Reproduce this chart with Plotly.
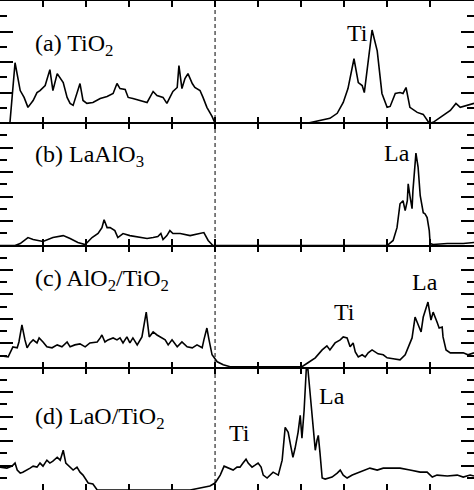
import plotly.graph_objects as go
from plotly.subplots import make_subplots

##############################################################################
# 데이터 (energy in eV, DOS in arb. units)
e_a = [-5.00, -4.77, -4.65, -4.53, -4.44, -4.35, -4.23, -4.14, -4.07, -3.95, -3.84, -3.77,
       -3.67, -3.60, -3.53, -3.44, -3.37, -3.30, -3.21, -3.14, -3.07, -2.98, -2.84, -2.67,
       -2.51, -2.37, -2.28, -2.21, -2.09, -2.02, -1.91, -1.74, -1.58, -1.44, -1.35, -1.21,
       -1.12, -1.05, -0.98, -0.88, -0.84, -0.77, -0.70, -0.63, -0.53, -0.47, -0.35, -0.28,
       -0.19, -0.07, 0.00, 2.14, 2.67, 2.84, 2.98, 3.09, 3.23, 3.33, 3.42, 3.47, 3.56, 3.65,
       3.77, 3.88, 4.00, 4.07, 4.19, 4.30, 4.37, 4.44, 4.53, 4.70, 4.84, 4.93, 4.98, 5.07,
       5.30, 5.47, 5.60, 5.70, 6.02]
dos_a = [0.00, 0.00, 3.96, 2.14, 1.69, 1.04, 1.49, 2.01, 2.14, 2.47, 3.51, 2.14,
         3.25, 2.99, 2.66, 1.69, 1.30, 1.17, 1.95, 2.60, 1.49, 1.30, 1.36, 1.62,
         1.75, 1.95, 2.60, 2.27, 2.21, 1.69, 1.62, 1.49, 1.36, 2.08, 1.82, 1.69,
         1.30, 1.69, 2.08, 2.34, 3.77, 2.27, 2.92, 3.25, 2.60, 2.34, 2.14, 1.69,
         1.04, 0.45, 0.00, 0.00, 0.32, 0.65, 1.36, 2.27, 4.22, 2.66, 2.47, 2.01, 4.09, 6.10,
         4.74, 1.95, 1.04, 1.10, 1.95, 2.01, 1.95, 2.34, 1.04, 0.71, 0.58, 0.19, 0.00, 0.06,
         0.52, 0.84, 1.30, 1.04, 1.30]

e_b = [-5.00, -4.65, -4.53, -4.35, -4.23, -4.00, -3.77, -3.53, -3.37, -3.19, -3.02, -2.86,
       -2.72, -2.63, -2.58, -2.51, -2.44, -2.33, -2.26, -2.14, -1.98, -1.74, -1.58, -1.44,
       -1.33, -1.26, -1.21, -1.12, -1.05, -0.98, -0.81, -0.58, -0.35, -0.26, -0.16, -0.05,
       4.00, 4.14, 4.23, 4.30, 4.37, 4.42, 4.47, 4.49, 4.53, 4.58, 4.60, 4.67, 4.72, 4.77,
       4.84, 4.88, 4.93, 4.98, 5.00, 5.07, 5.40, 5.77, 6.02]
dos_b = [0.00, 0.00, 0.16, 0.65, 0.49, 0.33, 0.65, 0.81, 0.57, 0.24, 0.08, 0.65,
         0.98, 1.46, 2.11, 1.46, 1.46, 1.22, 0.65, 0.98, 0.81, 0.65, 0.57, 0.65,
         0.73, 0.98, 0.49, 0.81, 1.22, 0.98, 0.98, 0.81, 0.98, 1.06, 0.41, 0.00,
         0.00, 0.41, 1.46, 3.41, 3.66, 2.85, 3.66, 5.04, 4.07, 3.01, 4.47, 7.56, 6.42, 4.07,
         2.68, 2.60, 2.28, 1.22, 0.16, 0.08, 0.16, 0.16, 0.24]

e_c = [-5.00, -4.81, -4.70, -4.60, -4.56, -4.49, -4.42, -4.37, -4.30, -4.23, -4.14, -4.09,
       -4.00, -3.91, -3.79, -3.67, -3.56, -3.44, -3.37, -3.26, -3.14, -3.02, -2.91, -2.74,
       -2.67, -2.63, -2.56, -2.49, -2.37, -2.28, -2.21, -2.14, -2.05, -1.98, -1.91, -1.81,
       -1.70, -1.60, -1.53, -1.44, -1.35, -1.28, -1.16, -1.09, -1.00, -0.88, -0.77, -0.65,
       -0.53, -0.42, -0.30, -0.26, -0.19, -0.14, -0.07, 0.05, 0.19, 0.35, 1.67, 2.02, 2.16,
       2.33, 2.49, 2.60, 2.67, 2.79, 2.91, 2.98, 3.07, 3.14, 3.21, 3.26, 3.33, 3.42, 3.49,
       3.56, 3.65, 3.72, 3.79, 3.91, 4.00, 4.14, 4.30, 4.42, 4.49, 4.58, 4.65, 4.70, 4.79,
       4.84, 4.91, 4.95, 5.02, 5.07, 5.16, 5.21, 5.28, 5.30, 5.37, 5.47, 5.63, 5.77, 5.88,
       6.02]
dos_c = [0.98, 0.89, 1.71, 1.63, 2.11, 3.50, 2.28, 1.63, 2.03, 2.28, 2.03, 2.44,
         2.11, 1.71, 1.63, 1.87, 1.71, 2.11, 1.71, 1.87, 1.95, 1.71, 2.03, 2.11,
         2.44, 2.68, 2.11, 2.28, 2.44, 2.28, 2.44, 2.03, 2.52, 2.03, 2.44, 1.87,
         2.52, 4.55, 2.52, 2.93, 2.68, 2.52, 2.28, 1.87, 2.28, 1.71, 2.11, 1.71,
         1.63, 1.87, 1.63, 2.28, 3.25, 2.28, 1.06, 0.49, 0.24, 0.08, 0.08, 0.08, 0.41,
         0.81, 1.46, 1.79, 1.46, 2.03, 2.28, 2.52, 2.44, 1.71, 2.03, 1.30, 0.89, 1.06, 0.89,
         1.22, 1.46, 1.30, 1.14, 1.06, 0.81, 0.73, 0.65, 1.06, 1.71, 2.44, 4.15, 3.74, 2.93,
         4.15, 4.96, 5.37, 3.90, 4.55, 3.74, 3.25, 3.33, 2.52, 1.46, 1.22, 1.22, 1.22, 1.06,
         1.22]

e_d = [-5.00, -4.84, -4.72, -4.65, -4.60, -4.53, -4.47, -4.37, -4.30, -4.23, -4.14, -4.07,
       -4.00, -3.91, -3.84, -3.77, -3.67, -3.60, -3.53, -3.47, -3.37, -3.30, -3.21, -3.14,
       -3.07, -3.00, -2.95, -2.84, -2.74, -0.58, -0.35, -0.12, 0.00, 0.12, 0.21, 0.30, 0.42,
       0.51, 0.58, 0.65, 0.72, 0.77, 0.86, 0.93, 1.00, 1.07, 1.12, 1.21, 1.28, 1.35, 1.47,
       1.56, 1.63, 1.70, 1.77, 1.81, 1.86, 1.93, 1.98, 2.00, 2.02, 2.07, 2.12, 2.16, 2.21,
       2.28, 2.33, 2.37, 2.40, 2.44, 2.49, 2.56, 2.72, 2.84, 2.91, 2.98, 3.07, 3.19, 3.37,
       3.60, 3.77, 3.91, 4.07, 4.30, 4.53, 4.77, 4.93, 5.05, 5.16, 5.40, 5.63, 5.77, 5.93,
       6.02]
dos_d = [1.87, 1.79, 1.95, 2.20, 1.63, 1.38, 1.46, 1.63, 1.79, 1.95, 1.87, 2.20,
         1.95, 2.44, 2.20, 2.36, 2.68, 2.44, 3.25, 2.20, 1.87, 1.63, 1.87, 1.46,
         1.22, 0.81, 0.57, 0.49, 0.00, 0.00, 0.16, 0.33, 0.57, 1.22, 1.95, 1.79, 1.63,
         1.87, 1.87, 2.20, 2.52, 2.20, 1.87, 2.03, 2.20, 1.87, 1.22, 0.98, 1.22, 1.46, 1.22,
         2.44, 5.12, 4.72, 3.41, 2.68, 3.41, 4.72, 6.10, 4.88, 4.23, 6.50, 9.84, 9.84, 7.89,
         5.69, 3.25, 4.07, 4.47, 3.01, 0.98, 0.89, 1.06, 1.38, 1.63, 1.22, 0.98, 1.22, 1.46,
         1.79, 1.63, 1.79, 1.79, 1.79, 1.63, 1.46, 1.46, 1.06, 1.22, 1.14, 1.22, 1.06, 1.22,
         1.14]

panel_e = [e_a, e_b, e_c, e_d]
panel_dos = [dos_a, dos_b, dos_c, dos_d]
panel_ymax = [8, 10, 10, 10]

# 텍스트 라벨 (text, row, x, y)
labels = [
    ("(a) TiO<sub>2</sub>", 1, -4.23, 5.1),
    ("Ti", 1, 3.02, 5.9),
    ("(b) LaAlO<sub>3</sub>", 2, -4.23, 7.3),
    ("La", 2, 3.88, 7.6),
    ("(c) AlO<sub>2</sub>/TiO<sub>2</sub>", 3, -4.23, 7.15),
    ("Ti", 3, 2.72, 4.6),
    ("La", 3, 4.53, 7.0),
    ("(d) LaO/TiO<sub>2</sub>", 4, -4.23, 5.9),
    ("Ti", 4, 0.28, 4.7),
    ("La", 4, 2.37, 7.7),
]

##############################################################################
fig = make_subplots(rows=4, cols=1, shared_xaxes=True, vertical_spacing=0)

for i in range(4):
    fig.add_trace(go.Scatter(x=panel_e[i], y=panel_dos[i], mode='lines',
                             line=dict(color='black', width=1.6),
                             showlegend=False), row=i + 1, col=1)
    fig.update_yaxes(range=[0, panel_ymax[i]], row=i + 1, col=1)

for text, row, x, y in labels:
    fig.add_annotation(text=text, x=x, y=y, row=row, col=1, showarrow=False,
                       xanchor='left', yanchor='middle',
                       font=dict(family='Liberation Serif', size=24, color='black'))

# 페르미 준위 점선
fig.add_shape(type='line', x0=0, x1=0, xref='x', y0=0, y1=1, yref='paper',
              line=dict(color='black', width=1, dash='4px,3px'))

fig.update_xaxes(range=[-5, 6.02], showline=True, linecolor='black', linewidth=1.2,
                 mirror='ticks', ticks='inside', ticklen=6, tickwidth=1.5,
                 tickcolor='black', dtick=1, tick0=0, showticklabels=False,
                 showgrid=False, zeroline=False)
fig.update_yaxes(showline=True, linecolor='rgba(0,0,0,0)', mirror='ticks',
                 ticks='inside', ticklen=13, tickwidth=1.5, tickcolor='black',
                 dtick=2, tick0=0, showticklabels=False, showgrid=False, zeroline=False,
                 minor=dict(ticks='inside', ticklen=7, tickwidth=1.5, tickcolor='black',
                            dtick=1, tick0=0, showgrid=False))

fig.update_layout(
    width=474, height=490,
    margin=dict(l=0, r=0, t=1, b=0),
    plot_bgcolor='white', paper_bgcolor='white',
)

# 페이지 기본 여백 제거
fig.write_html("out.html", config={'displayModeBar': False},
               post_script="document.body.style.margin='0';")
